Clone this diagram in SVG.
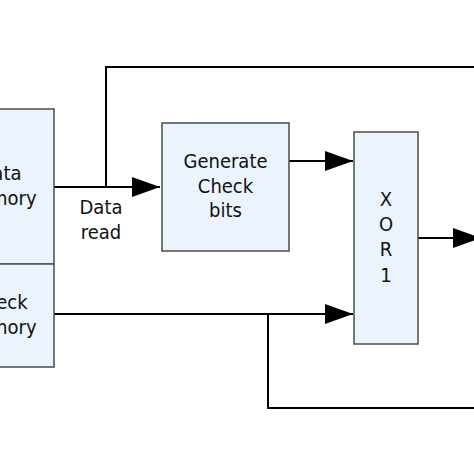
<svg xmlns="http://www.w3.org/2000/svg" width="474" height="474" viewBox="0 0 474 474">
<defs>
<marker id="arr" markerUnits="userSpaceOnUse" markerWidth="28" markerHeight="20" refX="28" refY="10" orient="auto" viewBox="0 0 28 20">
<path d="M0,0 L28,10 L0,20 z" fill="#000"/>
</marker>
<style>
.box{fill:#EBF3FC;stroke:#555;stroke-width:1.6}
.t{font-family:"DejaVu Sans Condensed","DejaVu Sans",Verdana,sans-serif;font-stretch:condensed;font-size:20px;fill:#111;text-anchor:middle}
.w{fill:none;stroke:#000;stroke-width:2}
</style>
</defs>
<rect width="474" height="474" fill="#fff"/>
<g id="connectors">
<path class="w" d="M106,187 V67 H476"/>
<path class="w" d="M54,187 H160" marker-end="url(#arr)"/>
<path class="w" d="M289,161 H353" marker-end="url(#arr)"/>
<path class="w" d="M418,238 H481" marker-end="url(#arr)"/>
<path class="w" d="M54,314 H353" marker-end="url(#arr)"/>
<path class="w" d="M268,314 V408 H476"/>
<text class="t" x="101" y="214">Data</text>
<text class="t" x="101" y="239">read</text>
</g>
<g id="data-memory">
<rect class="box" x="-2" y="109" width="56" height="155"/>
<text class="t" x="0" y="180">Data</text>
<text class="t" x="0" y="205">Memory</text>
</g>
<g id="check-memory">
<rect class="box" x="-2" y="264" width="56" height="103"/>
<text class="t" x="0" y="309">Check</text>
<text class="t" x="0" y="334">Memory</text>
</g>
<g id="generate">
<rect class="box" x="162" y="123" width="127" height="128"/>
<text class="t" x="225.5" y="168">Generate</text>
<text class="t" x="225.5" y="193">Check</text>
<text class="t" x="225.5" y="217">bits</text>
</g>
<g id="xor">
<rect class="box" x="354" y="132" width="64" height="212"/>
<text class="t" x="386" y="206">X</text>
<text class="t" x="386" y="231">O</text>
<text class="t" x="386" y="256">R</text>
<text class="t" x="386" y="282">1</text>
</g>
</svg>
